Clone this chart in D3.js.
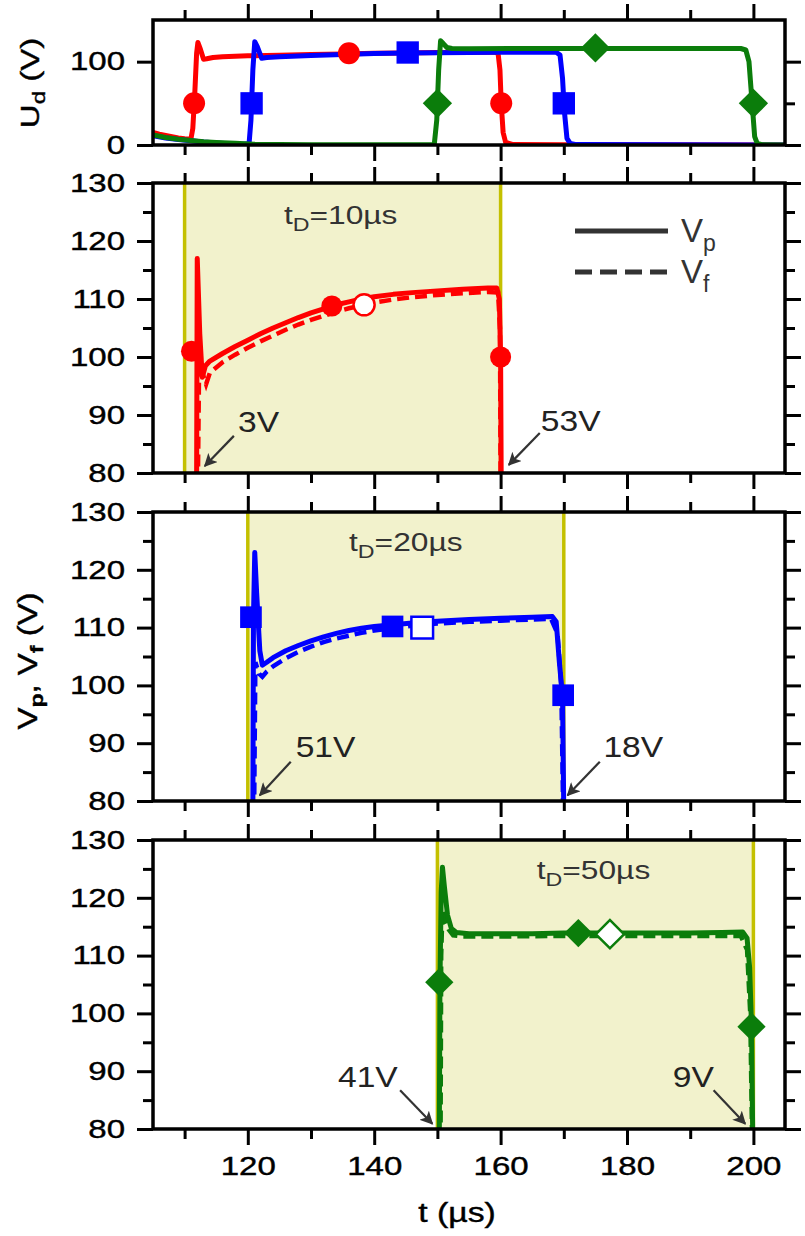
<!DOCTYPE html>
<html>
<head>
<meta charset="utf-8">
<script src="https://cdn.jsdelivr.net/npm/d3@7"></script>
<style>
  body { margin: 0; background: #fff; }
  text { font-family: "Liberation Sans", Arial, Helvetica, sans-serif; }
</style>
</head>
<body>
<svg id="chart" width="805" height="1236"></svg>
<script>
// ---- data (t in µs, voltages in V) ----
const tDomain = [105, 205];
const xMajorTicks = [120, 140, 160, 180, 200];
const xMinorTicks = [110, 130, 150, 170, 190];
const udMajorTicks = [0, 100];
const udMinorTicks = [50];
const vMajorTicks = [80, 90, 100, 110, 120, 130];
const vMinorTicks = [85, 95, 105, 115, 125];

// discharge voltage Ud
const udRed = [[105, 15], [106, 13], [107, 11.5], [108, 10], [109, 8.5], [110, 7.5], [111, 7], [111.3, 20],
  [111.6, 60], [111.9, 110], [112.1, 123], [112.5, 115], [113, 103], [113.5, 103.5], [114.5, 105], [116, 106],
  [120, 107], [125, 107.7], [130, 108.5], [135, 109.3], [140, 110], [145, 110.5], [150, 111], [155, 111.3],
  [159, 111.5], [159.6, 110], [159.9, 90], [160.1, 50], [160.4, 15], [160.8, 3], [162, 0.5], [170, 0.2], [205, 0]];
const udBlue = [[105, 11], [107, 8.5], [109, 6.5], [111, 5], [113, 3.5], [115, 2.5], [117, 1.5], [119, 1],
  [120.2, 1.5], [120.5, 30], [120.8, 90], [121.1, 124], [121.5, 118], [122.2, 104], [123, 105], [125, 106],
  [130, 107.5], [135, 108.7], [140, 109.7], [145, 110.3], [150, 110.8], [155, 111], [160, 111.2], [165, 111.3],
  [168.8, 111.3], [169.4, 108], [169.8, 80], [170.1, 40], [170.5, 8], [171, 2], [172, 0.5], [205, 0]];
const udGreen = [[105, 12], [107, 9], [109, 7], [111, 5.5], [113, 4], [115, 3], [118, 2], [121, 1], [125, 0.5],
  [130, 0.2], [149.5, 0.2], [149.9, 30], [150.2, 90], [150.5, 125], [150.9, 122], [151.5, 117], [152.3, 115.8],
  [155, 115.6], [175, 115.8], [198, 115.8], [198.8, 114], [199.3, 100], [199.8, 50], [200.2, 10], [200.6, 2],
  [201.5, 0.2], [205, 0]];
const udRedMarks = [[111.5, 50], [136, 110], [160.1, 50]];
const udBlueMarks = [[120.6, 50], [145.3, 111], [170, 50]];
const udGreenMarks = [[150, 50], [175, 116.5], [200, 50]];

// plasma potential Vp (solid) and floating potential Vf (dashed)
const vpRed = [[111.9, 78], [112.0, 117], [112.4, 104], [112.8, 96.5], [113.3, 98.5], [114, 99.3], [116, 100.6],
  [118, 101.8], [120, 102.9], [122, 104], [124, 105], [126, 105.9], [128, 106.8], [130, 107.6], [132, 108.3],
  [134, 109], [136, 109.5], [138, 110], [140, 110.4], [143, 110.8], [146, 111.1], [150, 111.4], [154, 111.7],
  [158, 111.9], [159.4, 111.9], [159.8, 110], [160, 100], [160.1, 78]];
const vfRed = [[112.1, 78], [112.3, 99], [113.4, 95.3], [114, 97.3], [116, 99.1], [118, 100.4], [120, 101.6],
  [122, 102.7], [124, 103.7], [126, 104.7], [128, 105.6], [130, 106.4], [132, 107.1], [134, 107.8], [136, 108.4],
  [138, 108.9], [140, 109.4], [143, 109.9], [146, 110.3], [150, 110.7], [154, 111.0], [158, 111.2],
  [159.6, 111.1], [159.9, 105], [160.0, 78]];
const vpBlue = [[120.8, 78], [120.9, 112], [121.1, 123], [121.4, 116], [121.9, 106], [122.3, 103.5], [123, 104],
  [124, 104.8], [126, 106], [128, 106.9], [130, 107.7], [132, 108.4], [134, 109], [136, 109.5], [138, 109.9],
  [140, 110.2], [143, 110.5], [146, 110.8], [150, 111.1], [155, 111.4], [160, 111.6], [165, 111.8],
  [168.2, 111.9], [168.8, 111], [169.3, 104], [169.8, 98], [170.0, 78]];
const vfBlue = [[121.0, 78], [121.2, 104], [121.8, 102], [122.3, 101.5], [123, 102.4], [124, 103.3], [126, 104.7],
  [128, 105.8], [130, 106.7], [132, 107.5], [134, 108.1], [136, 108.6], [138, 109.1], [140, 109.5], [143, 109.9],
  [146, 110.3], [150, 110.7], [155, 111.0], [160, 111.2], [165, 111.4], [168, 111.5], [169, 109],
  [169.6, 100], [169.9, 78]];
const vpGreen = [[150.3, 78], [150.4, 105], [150.6, 121], [150.8, 125.3], [151.1, 122], [151.6, 117],
  [152.2, 114.7], [153, 114], [155, 113.8], [160, 113.8], [165, 113.8], [170, 113.9], [175, 113.9], [180, 113.9],
  [185, 113.9], [190, 113.9], [195, 114], [198.3, 114.1], [199, 113], [199.4, 108], [199.7, 98], [199.9, 78]];
const vfGreen = [[150.5, 78], [150.6, 110], [150.8, 118], [151.2, 116], [151.8, 114.5], [152.5, 113.5],
  [154, 113.3], [160, 113.3], [170, 113.4], [180, 113.4], [190, 113.4], [198, 113.4], [199, 111],
  [199.5, 100], [199.8, 78]];
const vRedMarks = [[111.1, 101], [133.3, 108.8], [160.0, 100]];
const vRedOpen = [[138.4, 109]];
const vBlueMarks = [[120.5, 111.8], [142.9, 110.2], [169.9, 98.3]];
const vBlueOpen = [[147.6, 110]];
const vGreenMarks = [[150.3, 105.4], [172.3, 113.9], [199.7, 97.7]];
const vGreenOpen = [[177.3, 113.7]];

// pulse windows and labels
const pulseStart = [110, 120, 150];
const pulseEnd = [160, 170, 200];
const delayText = ["=10µs", "=20µs", "=50µs"];
const delayPos = [[134.7, 124.5], [145, 124.9], [174.7, 124.8]];
// drop annotations: label, text t, text V, arrow from t,V, arrow to t,V
const dropsRed = [["3V", 121.7, 88.8, 117.8, 86.4, 113.2, 81.2], ["53V", 171.1, 89.1, 166.2, 86.9, 161.3, 81.4]];
const dropsBlue = [["51V", 132.3, 89.4, 126.8, 86.8, 121.9, 81.0], ["18V", 181.0, 89.4, 175.7, 86.8, 170.6, 81.0]];
const dropsGreen = [["41V", 139.0, 89.0, 144.1, 86.7, 149.2, 80.9], ["9V", 190.5, 89.0, 193.7, 86.7, 198.7, 80.9]];

// ---- layout ----
const X0 = 153, X1 = 785;
const RED = "#ff0000", BLUE = "#0000ff", GREEN = "#0b7d0b";
const WIDE = 1.27;

const svg = d3.select("#chart");
const x = d3.scaleLinear().domain(tDomain).range([X0, X1]);

const defs = svg.append("defs");
defs.append("marker").attr("id", "arrow")
  .attr("viewBox", "0 0 10 10").attr("refX", 9).attr("refY", 5)
  .attr("markerWidth", 6).attr("markerHeight", 6).attr("orient", "auto")
  .append("path").attr("d", "M0,0L10,5L0,10L2.5,5Z").attr("fill", "#333");

const panels = [
  { top: 20, bottom: 145, domain: [0, 150], major: udMajorTicks, minorL: [], minorR: udMinorTicks },
  { top: 183, bottom: 473, domain: [80, 130], major: vMajorTicks, minorL: vMinorTicks, minorR: vMinorTicks,
    color: RED, vp: vpRed, vf: vfRed, marks: vRedMarks, open: vRedOpen, shape: "circle", drops: dropsRed, w: 0 },
  { top: 512, bottom: 801, domain: [80, 130], major: vMajorTicks, minorL: vMinorTicks, minorR: vMinorTicks,
    color: BLUE, vp: vpBlue, vf: vfBlue, marks: vBlueMarks, open: vBlueOpen, shape: "square", drops: dropsBlue, w: 1 },
  { top: 840, bottom: 1129, domain: [80, 130], major: vMajorTicks, minorL: vMinorTicks, minorR: vMinorTicks,
    color: GREEN, vp: vpGreen, vf: vfGreen, marks: vGreenMarks, open: vGreenOpen, shape: "diamond", drops: dropsGreen, w: 2, xLabels: true }
];

function symbolPath(shape, big) {
  if (shape === "circle") return d3.symbol(d3.symbolCircle, big ? 380 : 350)();
  if (shape === "square") return d3.symbol(d3.symbolSquare, big ? 500 : 470)();
  return d3.symbol(d3.symbolSquare, big ? 430 : 400)();
}

function drawMarks(g, pts, shape, color, y, open, big) {
  g.selectAll(null).data(pts).join("path")
    .attr("d", symbolPath(shape, big))
    .attr("transform", d => `translate(${x(d[0])},${y(d[1])})` + (shape === "diamond" ? " rotate(45)" : ""))
    .attr("fill", open ? "#fff" : color)
    .attr("stroke", color)
    .attr("stroke-width", open ? 2.5 : 0);
}

function addAxis(g, axis, tx, ty) {
  const a = g.append("g").attr("transform", `translate(${tx},${ty})`).call(axis);
  a.select(".domain").remove();
  a.selectAll("line").attr("stroke", "#000").attr("stroke-width", 3);
  a.attr("font-size", 26).attr("font-family", null);
  return a;
}

panels.forEach((p, i) => {
  const y = d3.scaleLinear().domain(p.domain).range([p.bottom, p.top]);
  const g = svg.append("g");
  const clipId = "clip" + i;
  defs.append("clipPath").attr("id", clipId).append("rect")
    .attr("x", X0).attr("y", p.top).attr("width", X1 - X0).attr("height", p.bottom - p.top);
  const plot = g.append("g").attr("clip-path", `url(#${clipId})`);
  const line = d3.line().x(d => x(d[0])).y(d => y(d[1]));

  if (i === 0) {
    [[udRed, RED], [udBlue, BLUE], [udGreen, GREEN]].forEach(([data, c]) => {
      plot.append("path").datum(data).attr("d", line).attr("fill", "none")
        .attr("stroke", c).attr("stroke-width", 5).attr("stroke-linejoin", "round");
    });
    [[udRedMarks, "circle", RED], [udBlueMarks, "square", BLUE], [udGreenMarks, "diamond", GREEN]]
      .forEach(([m, s, c]) => drawMarks(g, m, s, c, y, false, true));
  } else {
    const t0 = pulseStart[p.w], t1 = pulseEnd[p.w];
    plot.append("rect").attr("x", x(t0)).attr("y", p.top).attr("width", x(t1) - x(t0))
      .attr("height", p.bottom - p.top).attr("fill", "#f2f2cc");
    plot.selectAll(null).data([t0, t1]).join("line")
      .attr("x1", d => x(d)).attr("x2", d => x(d)).attr("y1", p.top).attr("y2", p.bottom)
      .attr("stroke", "#c4c000").attr("stroke-width", 3.5);

    plot.append("path").datum(p.vf).attr("d", line).attr("fill", "none")
      .attr("stroke", p.color).attr("stroke-width", 4.5).attr("stroke-dasharray", "12,6");
    plot.append("path").datum(p.vp).attr("d", line).attr("fill", "none")
      .attr("stroke", p.color).attr("stroke-width", 5).attr("stroke-linejoin", "round");
    drawMarks(g, p.marks, p.shape, p.color, y, false, false);
    drawMarks(g, p.open, p.shape, p.color, y, true, false);

    // delay label
    const dp = delayPos[p.w];
    const tl = g.append("text")
      .attr("transform", `translate(${x(dp[0])},${y(dp[1])}) scale(1.22,1)`)
      .attr("text-anchor", "middle").attr("dy", "0.35em")
      .attr("font-size", 26).attr("fill", "#333");
    tl.append("tspan").text("t");
    tl.append("tspan").attr("dy", 7).attr("font-size", 19).text("D");
    tl.append("tspan").attr("dy", -7).text(delayText[p.w]);

    // drop annotations
    p.drops.forEach(d => {
      g.append("line")
        .attr("x1", x(d[3])).attr("y1", y(d[4])).attr("x2", x(d[5])).attr("y2", y(d[6]))
        .attr("stroke", "#333").attr("stroke-width", 2.2).attr("marker-end", "url(#arrow)");
      g.append("text")
        .attr("transform", `translate(${x(d[1])},${y(d[2])}) scale(1.12,1)`)
        .attr("text-anchor", "middle").attr("dy", "0.35em")
        .attr("font-size", 30).attr("fill", "#222").text(d[0]);
    });
  }

  // frame
  g.append("rect").attr("x", X0).attr("y", p.top).attr("width", X1 - X0).attr("height", p.bottom - p.top)
    .attr("fill", "none").attr("stroke", "#000").attr("stroke-width", 3.5);

  // ticks, outward on all four sides
  addAxis(g, d3.axisTop(x).tickValues(xMajorTicks).tickSize(16).tickFormat(""), 0, p.top);
  addAxis(g, d3.axisTop(x).tickValues(xMinorTicks).tickSize(10).tickFormat(""), 0, p.top);
  const bot = addAxis(g, d3.axisBottom(x).tickValues(xMajorTicks).tickSize(16)
    .tickFormat(p.xLabels ? d3.format("d") : ""), 0, p.bottom);
  addAxis(g, d3.axisBottom(x).tickValues(xMinorTicks).tickSize(10).tickFormat(""), 0, p.bottom);
  const left = addAxis(g, d3.axisLeft(y).tickValues(p.major).tickSize(16).tickFormat(d3.format("d")), X0, 0);
  addAxis(g, d3.axisLeft(y).tickValues(p.minorL).tickSize(10).tickFormat(""), X0, 0);
  addAxis(g, d3.axisRight(y).tickValues(p.major).tickSize(16).tickFormat(""), X1, 0);
  addAxis(g, d3.axisRight(y).tickValues(p.minorR).tickSize(10).tickFormat(""), X1, 0);

  left.selectAll("text").attr("x", -28 / WIDE).attr("transform", `scale(${WIDE},1)`)
    .attr("fill", "#000").attr("stroke", "#000").attr("stroke-width", 0.4);
  if (p.xLabels) {
    bot.selectAll("text").attr("y", 37).attr("dy", "0.35em").attr("transform", `scale(${WIDE},1)`)
      .attr("fill", "#000").attr("stroke", "#000").attr("stroke-width", 0.4);
  }
});

// legend (in the tD=10µs panel)
const leg = svg.append("g");
[[231, null, "p"], [272, "17,8", "f"]].forEach(([ly, dash, sub]) => {
  leg.append("line").attr("x1", 575).attr("x2", 668).attr("y1", ly).attr("y2", ly)
    .attr("stroke", "#333").attr("stroke-width", 5).attr("stroke-dasharray", dash);
  const t = leg.append("text").attr("x", 681).attr("y", ly + 11).attr("font-size", 33).attr("fill", "#333");
  t.append("tspan").text("V");
  t.append("tspan").attr("dy", 9).attr("font-size", 23).text(sub);
});

// axis titles
const ud = svg.append("text")
  .attr("transform", `translate(30,83) rotate(-90) scale(${WIDE},1)`)
  .attr("text-anchor", "middle").attr("dy", "0.35em").attr("font-size", 26)
  .attr("stroke", "#000").attr("stroke-width", 0.4);
ud.append("tspan").text("U");
ud.append("tspan").attr("dy", 6).attr("font-size", 19).text("d");
ud.append("tspan").attr("dy", -6).text(" (V)");

const vv = svg.append("text")
  .attr("transform", `translate(28,661) rotate(-90) scale(1.22,1)`)
  .attr("text-anchor", "middle").attr("dy", "0.35em").attr("font-size", 27)
  .attr("stroke", "#000").attr("stroke-width", 0.4);
vv.append("tspan").text("V");
vv.append("tspan").attr("dy", 6).attr("font-size", 19).attr("font-weight", "bold").text("p");
vv.append("tspan").attr("dy", -6).text(", V");
vv.append("tspan").attr("dy", 6).attr("font-size", 19).attr("font-weight", "bold").text("f");
vv.append("tspan").attr("dy", -6).text(" (V)");

svg.append("text")
  .attr("transform", `translate(${(X0 + X1) / 2 - 12},1213) scale(1.25,1)`)
  .attr("text-anchor", "middle").attr("dy", "0.35em").attr("font-size", 27)
  .attr("stroke", "#000").attr("stroke-width", 0.4).text("t (µs)");
</script>
</body>
</html>
